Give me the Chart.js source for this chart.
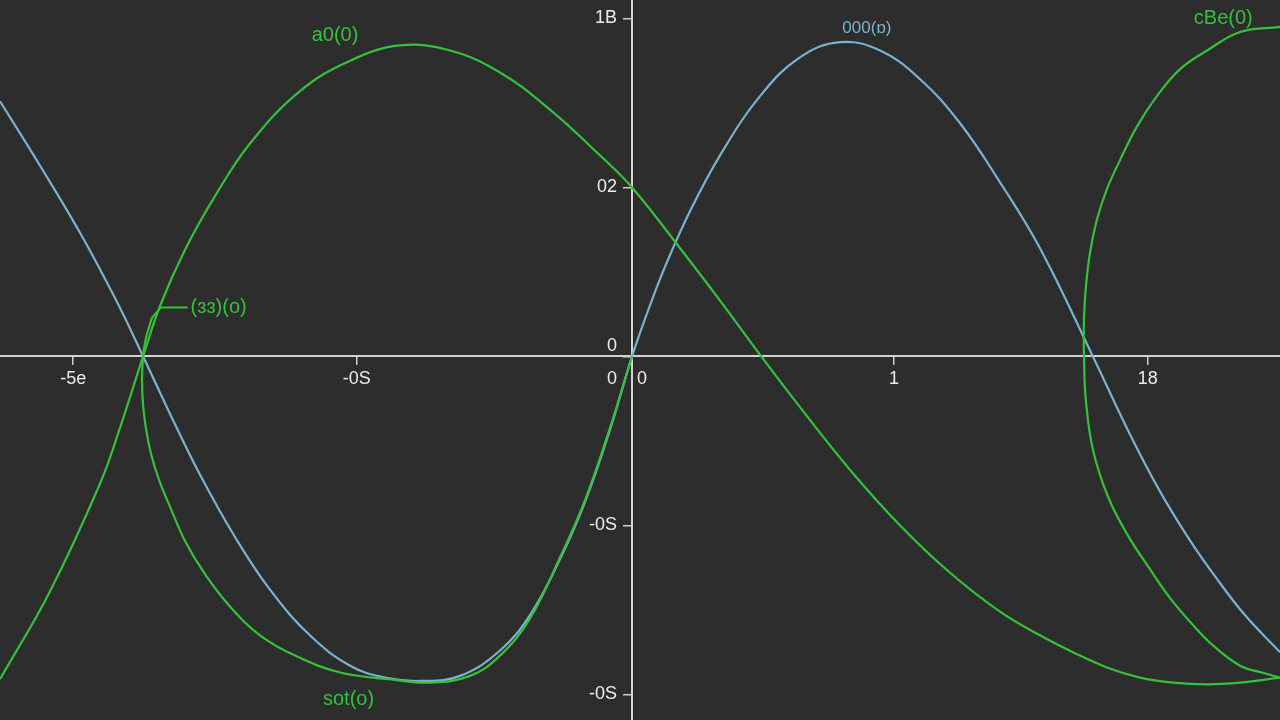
<!DOCTYPE html>
<html>
<head>
<meta charset="utf-8">
<script src="https://cdn.jsdelivr.net/npm/chart.js@4"></script>
<style>
  html, body { margin: 0; padding: 0; background: #2d2d2d; overflow: hidden; }
  canvas { display: block; }
</style>
</head>
<body>
<canvas id="trigChart" width="1280" height="720"></canvas>
<script>
// axis ticks
const xTickValues = [-2.07, -1.02, 0, 0.97, 1.91];
const xTickLabels = ["-5e", "-0S", "0    0", "1", "18"];
const yTickValues = [2, 1, 0, -1, -2];
const yTickLabels = ["1B", "02", "0", "-0S", "-0S"];

// blue wave
const blueX = [-2.341, -2.193, -2.044, -1.907, -1.811, -1.711, -1.600, -1.470, -1.341, -1.193, -1.044, -0.915, -0.785, -0.637, -0.489, -0.378, -0.267, -0.174, -0.081, 0, 0.059, 0.122, 0.215, 0.326, 0.474, 0.622, 0.770, 0.919, 1.067, 1.215, 1.363, 1.511, 1.707, 1.844, 1.956, 2.067, 2.159, 2.270, 2.400];
const blueY = [1.51, 1.13, 0.73, 0.32, 0, -0.34, -0.70, -1.07, -1.38, -1.65, -1.83, -1.90, -1.92, -1.89, -1.74, -1.53, -1.20, -0.86, -0.43, 0, 0.27, 0.53, 0.86, 1.19, 1.54, 1.77, 1.86, 1.81, 1.64, 1.38, 1.03, 0.64, 0, -0.46, -0.80, -1.09, -1.30, -1.53, -1.75];

// big green wave
const wideX = [-2.341, -2.156, -1.970, -1.896, -1.811, -1.748, -1.656, -1.544, -1.415, -1.230, -1.044, -0.859, -0.674, -0.489, -0.304, -0.119, 0, 0.178, 0.326, 0.474, 0.622, 0.807, 0.993, 1.178, 1.363, 1.511, 1.633, 1.759, 1.881, 2.004, 2.130, 2.252, 2.400];
const wideY = [-1.91, -1.39, -0.75, -0.42, 0, 0.30, 0.63, 0.95, 1.26, 1.57, 1.75, 1.84, 1.81, 1.68, 1.46, 1.19, 1.00, 0.64, 0.33, 0.01, -0.30, -0.67, -1.00, -1.28, -1.51, -1.65, -1.75, -1.84, -1.90, -1.93, -1.94, -1.93, -1.90];

// lower green loop
const loopX = [-1.778, -1.800, -1.811, -1.815, -1.811, -1.800, -1.781, -1.752, -1.711, -1.656, -1.581, -1.489, -1.378, -1.248, -1.081, -0.896, -0.748, -0.600, -0.489, -0.378, -0.267, -0.174, -0.081, 0];
const loopY = [0.23, 0.11, 0, -0.14, -0.29, -0.43, -0.58, -0.73, -0.89, -1.09, -1.29, -1.48, -1.65, -1.77, -1.87, -1.91, -1.93, -1.89, -1.77, -1.55, -1.19, -0.85, -0.42, 0];

// right green arc
const arcX = [2.400, 2.252, 2.130, 2.030, 1.944, 1.870, 1.807, 1.759, 1.722, 1.696, 1.681, 1.674, 1.674, 1.681, 1.707, 1.763, 1.837, 1.919, 1.993, 2.067, 2.152, 2.252, 2.333, 2.400];
const arcY = [1.95, 1.92, 1.81, 1.70, 1.54, 1.36, 1.16, 0.99, 0.81, 0.61, 0.41, 0.22, 0, -0.26, -0.55, -0.83, -1.06, -1.26, -1.43, -1.57, -1.71, -1.83, -1.87, -1.90];

// curve names and where they sit
const curveNames = ["a0(0)", "000(ɒ)", "cBe(0)", "(ɜɜ)(o)", "sot(o)"];
const nameX = [-1.10, 0.87, 2.19, -1.635, -1.05];
const nameY = [1.90, 1.94, 2.00, 0.29, -2.03];

const GREEN = "#35c23a";
const BLUE = "#7bb2cf";
const FONT = "'Liberation Sans', Arial, sans-serif";

const toPoints = (xs, ys) => xs.map((x, i) => ({ x: x, y: ys[i] }));

const backdrop = {
  id: "backdrop",
  beforeDraw(chart) {
    const ctx = chart.ctx;
    ctx.save();
    ctx.fillStyle = "#2d2d2d";
    ctx.fillRect(0, 0, chart.width, chart.height);
    ctx.restore();
  }
};

const curveLabels = {
  id: "curveLabels",
  afterDatasetsDraw(chart) {
    const ctx = chart.ctx;
    const sx = chart.scales.x, sy = chart.scales.y;
    ctx.save();
    ctx.textBaseline = "middle";
    curveNames.forEach((name, i) => {
      const px = sx.getPixelForValue(nameX[i]);
      const py = sy.getPixelForValue(nameY[i]);
      ctx.fillStyle = i === 1 ? BLUE : GREEN;
      ctx.font = (i === 1 ? "17px " : "20px ") + FONT;
      ctx.textAlign = "center";
      if (i === 3) {
        // leader line from the loop to its name
        const lx = sx.getPixelForValue(loopX[0]);
        const ly = sy.getPixelForValue(loopY[0]);
        ctx.strokeStyle = GREEN;
        ctx.lineWidth = 2;
        ctx.beginPath();
        ctx.moveTo(lx, ly);
        ctx.lineTo(lx + 9, py);
        ctx.lineTo(px - 3, py);
        ctx.stroke();
        ctx.textAlign = "left";
      }
      ctx.fillText(name, px, py);
    });
    ctx.restore();
  }
};

const lineStyle = (color) => ({
  showLine: true,
  borderColor: color,
  borderWidth: 2.2,
  pointRadius: 0,
  tension: 0.4,
  fill: false
});

new Chart(document.getElementById("trigChart").getContext("2d"), {
  type: "scatter",
  data: {
    datasets: [
      Object.assign({ label: "wide", data: toPoints(wideX, wideY) }, lineStyle(GREEN)),
      Object.assign({ label: "loop", data: toPoints(loopX, loopY) }, lineStyle(GREEN)),
      Object.assign({ label: "arc", data: toPoints(arcX, arcY) }, lineStyle(GREEN)),
      Object.assign({ label: "blue", data: toPoints(blueX, blueY) }, lineStyle(BLUE))
    ]
  },
  options: {
    responsive: false,
    animation: false,
    devicePixelRatio: 1,
    layout: { padding: 0 },
    plugins: {
      legend: { display: false },
      tooltip: { enabled: false }
    },
    scales: {
      x: {
        type: "linear",
        min: -2.341,
        max: 2.4,
        position: { y: 0 },
        afterFit: (s) => { s.height = 0; s.paddingLeft = 0; s.paddingRight = 0; },
        afterBuildTicks: (s) => { s.ticks = xTickValues.map((v) => ({ value: v })); },
        ticks: {
          callback: (v, i) => xTickLabels[i] + (v === 0 ? "  " : ""),
          color: "#ececec",
          font: { family: FONT, size: 18 },
          padding: 4,
          maxRotation: 0,
          autoSkip: false
        },
        grid: { drawOnChartArea: false, tickLength: 8, color: "#cfcfcf", lineWidth: 1.5 },
        border: { color: "#d2d2d2", width: 2 }
      },
      y: {
        type: "linear",
        min: -2.151,
        max: 2.109,
        position: { x: 0 },
        afterFit: (s) => { s.width = 0; s.paddingTop = 0; s.paddingBottom = 0; },
        afterBuildTicks: (s) => { s.ticks = yTickValues.map((v) => ({ value: v })); },
        ticks: {
          callback: (v, i) => v === 0 ? [yTickLabels[i] + "   ", ""] : yTickLabels[i] + "   ",
          color: "#ececec",
          font: { family: FONT, size: 18 },
          padding: 4,
          autoSkip: false
        },
        grid: { drawOnChartArea: false, tickLength: 8, color: "#cfcfcf", lineWidth: 1.5 },
        border: { color: "#d2d2d2", width: 2 }
      }
    }
  },
  plugins: [backdrop, curveLabels]
});
</script>
</body>
</html>
